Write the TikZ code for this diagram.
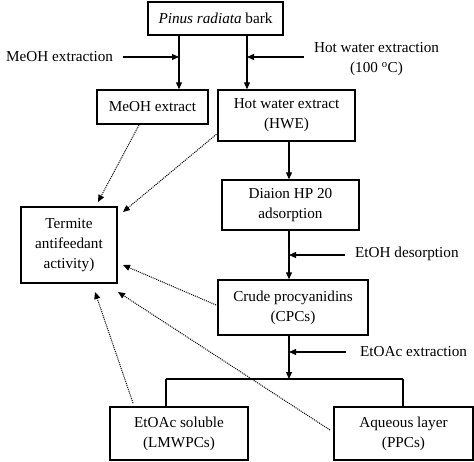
\documentclass[tikz,border=0pt]{standalone}
\usepackage{fontspec}
\setmainfont{Liberation Serif}
\usetikzlibrary{arrows.meta}
\begin{document}
\begin{tikzpicture}[x=1pt,y=-1pt,
  box/.style={draw,line width=1.4pt,inner sep=0pt,align=center,font=\fontsize{15.2}{20}\selectfont},
  lbl/.style={inner sep=0pt,align=center,font=\fontsize{15.2}{20}\selectfont},
  arr/.style={line width=1.2pt,-{Triangle[length=7pt,width=6pt]}},
  ln/.style={line width=1.2pt},
  dots/.style={line width=1pt,densely dotted,-{Triangle[length=7pt,width=6pt]}}]
\useasboundingbox (0,0) rectangle (474,462);
% boxes
\node[box,minimum width=135pt,minimum height=33pt] (pinus) at (215.5,18.5) {\textit{Pinus radiata} bark};
\node[box,minimum width=111pt,minimum height=34pt] (meoh) at (152.5,107) {MeOH extract};
\node[box,minimum width=137pt,minimum height=51pt] (hwe) at (286.5,115.5) {Hot water extract\\(HWE)};
\node[box,minimum width=137pt,minimum height=50pt] (diaion) at (290.5,205) {Diaion HP 20\\adsorption};
\node[box,minimum width=150pt,minimum height=55pt] (crude) at (293,307.5) {Crude procyanidins\\(CPCs)};
\node[box,minimum width=96pt,minimum height=76pt] (termite) at (69,245) {Termite\\antifeedant\\activity)};
\node[box,minimum width=138pt,minimum height=53pt] (etoac) at (179,433.5) {EtOAc soluble\\(LMWPCs)};
\node[box,minimum width=139pt,minimum height=53pt] (aq) at (403.5,433.5) {Aqueous layer\\(PPCs)};
% labels
\node[lbl,anchor=west] (lmeoh) at (6,57) {MeOH extraction};
\node[lbl,anchor=north] (lhw) at (376.5,42) {Hot water extraction\\(100 $^{\mathrm{o}}$C)};
\node[lbl,anchor=west] (letoh) at (355,254) {EtOH desorption};
\node[lbl,anchor=west] (letoac) at (360,352) {EtOAc extraction};
% coordinates
\coordinate (xm) at (179,0);
\coordinate (xh) at (247,0);
\coordinate (xc) at (289,0);
\coordinate (s1) at (123,57);
\coordinate (s2) at (304,57);
\coordinate (s3) at (345,255);
\coordinate (s4) at (346,352);
\coordinate (j) at (289,379);
\coordinate (jl) at (166,379);
\coordinate (jr) at (403,379);
% main flow
\draw[arr] (pinus.south -| xm) -- (meoh.north -| xm);
\draw[arr] (pinus.south -| xh) -- (hwe.north -| xh);
\draw[arr] (s1) -- (s1 -| xm);
\draw[arr] (s2) -- (s2 -| xh);
\draw[arr] (hwe.south -| xc) -- (diaion.north -| xc);
\draw[arr] (diaion.south -| xc) -- (crude.north -| xc);
\draw[arr] (s3) -- (s3 -| xc);
\draw[arr] (crude.south -| xc) -- (j);
\draw[arr] (s4) -- (s4 -| xc);
\draw[ln] (jl) -- (jr);
\draw[ln] (jl) -- (etoac.north -| jl);
\draw[ln] (jr) -- (aq.north -| jr);
% dotted arrows
\draw[dots] (139,125) -- (98,202);
\draw[dots] (218,133) -- (123,212);
\draw[dots] (216,305) -- (123,265);
\draw[dots] (133,403) -- (95,292);
\draw[dots] (330,430) -- (118,292);
\end{tikzpicture}
\end{document}
